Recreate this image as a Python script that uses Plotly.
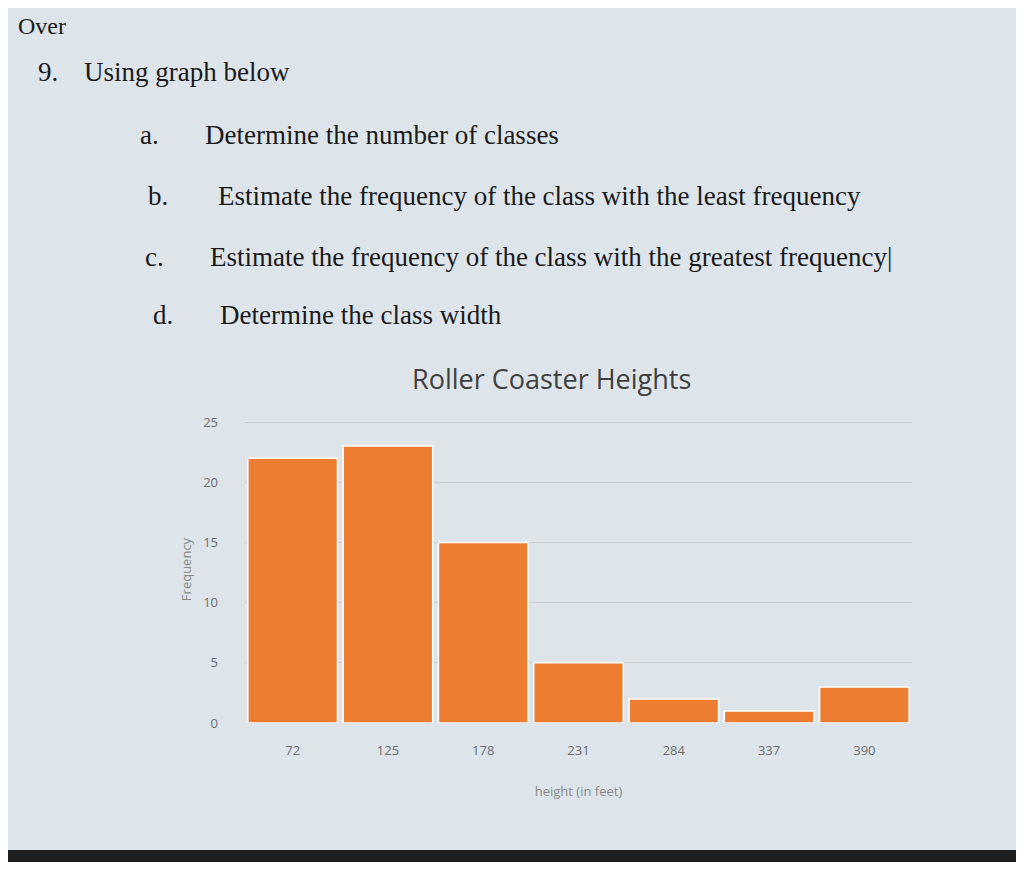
import plotly.graph_objects as go

# Roller coaster heights histogram (class midpoints in feet)
classes = ["72", "125", "178", "231", "284", "337", "390"]
frequency = [22, 23, 15, 5, 2, 1, 3]
y_ticks = [0, 5, 10, 15, 20, 25]

# Worksheet text above the chart
question_num = "9."
question_head = "Using graph below"
item_labels = ["a.", "b.", "c.", "d."]
item_texts = [
    "Determine the number of classes",
    "Estimate the frequency of the class with the least frequency",
    "Estimate the frequency of the class with the greatest frequency|",
    "Determine the class width",
]

OFF = 8  # page body margin
W, H = 1024 - 2 * OFF, 870 - 2 * OFF
# plot area in page pixels: x 245..912, y 416..723 (25 sits at 422)
L, R, T, B = 245 - OFF, W - (912 - OFF), 416 - OFF, H - (723 - OFF)
PW, PH = W - L - R, H - T - B


def px(x, y):
    # page pixel position -> paper coordinates
    return (x - OFF - L) / PW, (H - B - (y - OFF)) / PH


fig = go.Figure(go.Bar(
    x=classes,
    y=frequency,
    marker=dict(color="#ED7D31", line=dict(color="white", width=1.5)),
    width=0.94,
))

serif = dict(family="Liberation Serif", size=27, color="#1a1a1a")
notes = []


def add_text(x, y, text, font, anchor="left"):
    xp, yp = px(x, y)
    notes.append(dict(x=xp, y=yp, xref="paper", yref="paper", text=text,
                      showarrow=False, xanchor=anchor, yanchor="middle", font=font))


add_text(16, 26, "Over", dict(serif, size=24))
add_text(36, 72, question_num, serif)
add_text(82, 72, question_head, serif)
label_pos = [(138, 135), (146, 196), (143, 257), (151, 315)]
text_x = [203, 216, 208, 218]
for lab, (lx, ly), tx, txt in zip(item_labels, label_pos, text_x, item_texts):
    add_text(lx, ly, lab, serif)
    add_text(tx, ly, txt, serif)

add_text(551, 378, "Roller Coaster Heights",
         dict(family="Open Sans", size=27, color="#404040"), anchor="center")

fig.update_layout(
    width=W, height=H,
    margin=dict(l=L, r=R, t=T, b=B),
    paper_bgcolor="#dde4ea",
    plot_bgcolor="#dde4ea",
    showlegend=False,
    annotations=notes,
    font=dict(family="Open Sans", color="#707070", size=13),
    xaxis=dict(
        type="category",
        range=[-0.5, 6.5],
        showgrid=False, showline=False, ticks="",
        tickfont=dict(size=13, color="#6e6e6e"),
        ticklabelstandoff=18,
        title=dict(text="height (in feet)", font=dict(size=13, color="#8a8a8a"), standoff=28),
    ),
    yaxis=dict(
        range=[0, 25.5],
        tickvals=y_ticks,
        showgrid=True, gridcolor="#c6ccd2", gridwidth=1,
        zeroline=False, showline=False, ticks="",
        tickfont=dict(size=13, color="#6e6e6e"),
        ticklabelstandoff=26,
        title=dict(text="Frequency", font=dict(size=13, color="#8a8a8a"), standoff=8),
    ),
    shapes=[
        dict(type="rect", xref="paper", yref="paper",
             x0=px(0, 0)[0], x1=px(1024, 0)[0], y0=px(0, 870)[1], y1=px(0, 850)[1],
             fillcolor="#1e1e1e", line=dict(width=0), layer="above"),
    ],
)

fig.write_html("out.html")
